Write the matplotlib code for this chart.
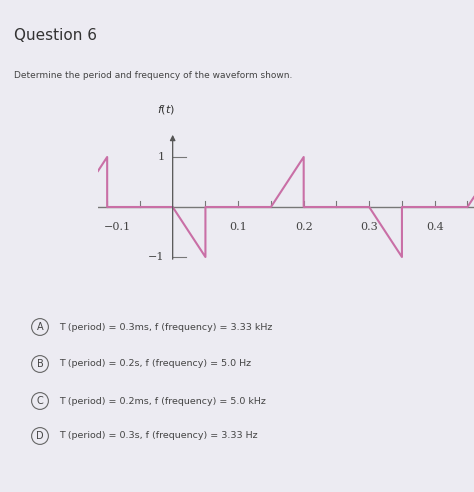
import numpy as np
import matplotlib.pyplot as plt

# waveform vertices (t, f)
t_pts = [-0.114, -0.1, -0.1, 0.0, 0.05, 0.05, 0.15, 0.2, 0.2, 0.3, 0.35, 0.35, 0.45, 0.46]
f_pts = [0.72, 1.0, 0.0, 0.0, -1.0, 0.0, 0.0, 1.0, 0.0, 0.0, -1.0, 0.0, 0.0, 0.2]
xticks = [-0.1, -0.05, 0.05, 0.1, 0.15, 0.2, 0.25, 0.3, 0.35, 0.4, 0.45]
xlabels = {-0.1: '\u22120.1', 0.1: '0.1', 0.2: '0.2', 0.3: '0.3', 0.4: '0.4'}
options = ['A', 'B', 'C', 'D']
answers = ['T (period) = 0.3ms, f (frequency) = 3.33 kHz',
           'T (period) = 0.2s, f (frequency) = 5.0 Hz',
           'T (period) = 0.2ms, f (frequency) = 5.0 kHz',
           'T (period) = 0.3s, f (frequency) = 3.33 Hz']

W, H = 474, 492
fig = plt.figure(figsize=(W / 100, H / 100), dpi=100)
fig.patch.set_facecolor('#ecebf2')

fig.text(14 / W, 1 - 35 / H, 'Question 6', fontsize=11, color='#333333', va='center')
fig.text(14 / W, 1 - 75 / H, 'Determine the period and frequency of the waveform shown.',
         fontsize=6.5, color='#444444', va='center')

# axes: x from px 98 to 474, y from px 120 to 262
ax = fig.add_axes([98 / W, 1 - 262 / H, (W - 98) / W, 142 / H])
ax.set_xlim(-0.114, 0.46)
ax.set_ylim(-1.1, 1.74)
ax.axis('off')
ax.patch.set_alpha(0)

ax.plot([-0.114, 0.46], [0, 0], color='#777777', lw=1)
ax.annotate('', xy=(0, 1.5), xytext=(0, -1.1),
            arrowprops=dict(arrowstyle='-|>', color='#555555', lw=0.9, mutation_scale=8))
ax.text(-0.01, 1.95, '$f(t)$', fontsize=8, ha='center', va='center', color='#333333',
        clip_on=False)
for x in xticks:
    ax.plot([x, x], [0, 0.13], color='#777777', lw=0.8)
    if x in xlabels:
        ax.text(x + (0.015 if x < 0 else 0), -0.4, xlabels[x], fontsize=8, ha='center',
                va='center', color='#444444', family='DejaVu Serif')
for y, lab in [(1, '1'), (-1, '\u22121')]:
    ax.plot([0, 0.02], [y, y], color='#777777', lw=0.8)
    ax.text(-0.012, y, lab, fontsize=8, ha='right', va='center', color='#444444',
            family='DejaVu Serif')
ax.plot(t_pts, f_pts, color='#c96fa6', lw=1.5)

ys = [327, 364, 401, 436]
for opt, ans, y in zip(options, answers, ys):
    fig.text(40 / W, 1 - y / H, opt, fontsize=7, ha='center', va='center', color='#444444',
             bbox=dict(boxstyle='circle,pad=0.35', fc='none', ec='#666666', lw=0.8))
    fig.text(59 / W, 1 - y / H, ans, fontsize=6.8, va='center', color='#444444')

fig.savefig('out.png', dpi=100, facecolor=fig.get_facecolor())
